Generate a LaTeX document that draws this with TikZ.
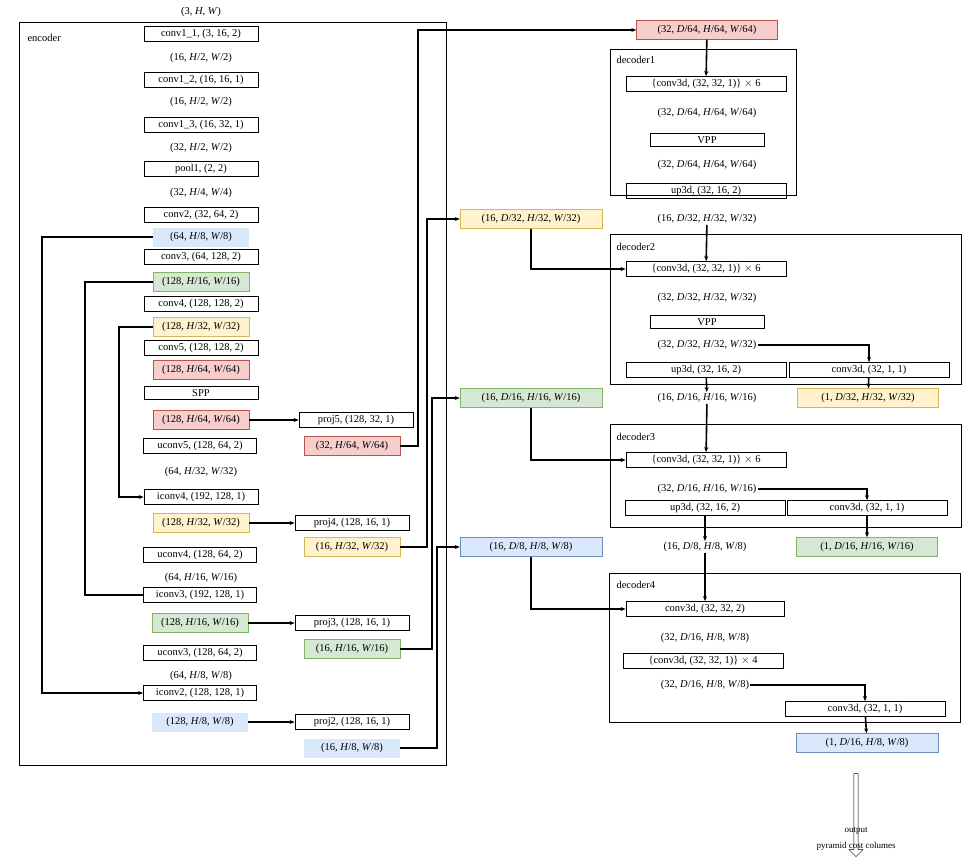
\documentclass[tikz,border=0pt]{standalone}
\usepackage{fontspec}
\setmainfont{Liberation Serif}
\usetikzlibrary{arrows.meta,shapes.arrows}
\newcommand\I[1]{\textit{#1}}
\definecolor{rfill}{HTML}{F8CECC}\definecolor{rdraw}{HTML}{B85450}
\definecolor{yfill}{HTML}{FFF2CC}\definecolor{ydraw}{HTML}{D6B656}
\definecolor{gfill}{HTML}{D5E8D4}\definecolor{gdraw}{HTML}{82B366}
\definecolor{bfill}{HTML}{DAE8FC}\definecolor{bdraw}{HTML}{6C8EBF}
\begin{document}
\begin{tikzpicture}[x=1pt,y=-1pt,font=\fontsize{10.5}{12}\selectfont,
  op/.style={draw,line width=0.8pt,minimum height=15pt,inner sep=0pt},
  lbl/.style={inner sep=1pt},
  col/.style={minimum height=19pt,minimum width=96pt,inner sep=0pt},
  red/.style={col,fill=rfill,draw=rdraw},
  yel/.style={col,fill=yfill,draw=ydraw},
  grn/.style={col,fill=gfill,draw=gdraw},
  blu/.style={col,fill=bfill},
  blub/.style={col,fill=bfill,draw=bdraw},
  frame/.style={draw,line width=0.8pt},
  link/.style={line width=1.6pt,-{Stealth[length=5pt,width=4pt]}},
  plain/.style={line width=1.6pt}]
\useasboundingbox (0,0) rectangle (976,863);
% encoder
\draw[frame] (19,22) rectangle (446,765);
\node[anchor=west] (enc) at (24,38) {encoder};
\node[lbl] (in) at (201,12) {(3, \I{H}, \I{W})};
\node[op,minimum width=114pt] (c11) at (201,34) {conv1\_1, (3, 16, 2)};
\node[lbl] (s1) at (201,58) {(16, \I{H}/2, \I{W}/2)};
\node[op,minimum width=114pt] (c12) at (201,80) {conv1\_2, (16, 16, 1)};
\node[lbl] (s2) at (201,102) {(16, \I{H}/2, \I{W}/2)};
\node[op,minimum width=114pt] (c13) at (201,125) {conv1\_3, (16, 32, 1)};
\node[lbl] (s3) at (201,148) {(32, \I{H}/2, \I{W}/2)};
\node[op,minimum width=114pt] (p1) at (201,169) {pool1, (2, 2)};
\node[lbl] (s4) at (201,193) {(32, \I{H}/4, \I{W}/4)};
\node[op,minimum width=114pt] (c2) at (201,215) {conv2, (32, 64, 2)};
\node[blu] (e8) at (201,237) {(64, \I{H}/8, \I{W}/8)};
\node[op,minimum width=114pt] (c3) at (201,257) {conv3, (64, 128, 2)};
\node[grn] (e16) at (201,282) {(128, \I{H}/16, \I{W}/16)};
\node[op,minimum width=114pt] (c4) at (201,304) {conv4, (128, 128, 2)};
\node[yel] (e32) at (201,327) {(128, \I{H}/32, \I{W}/32)};
\node[op,minimum width=114pt] (c5) at (201,348) {conv5, (128, 128, 2)};
\node[red] (e64) at (201,370) {(128, \I{H}/64, \I{W}/64)};
\node[op,minimum width=114pt,minimum height=13pt] (spp) at (201,393) {SPP};
\node[red] (f64) at (201,420) {(128, \I{H}/64, \I{W}/64)};
\node[op,minimum width=114pt] (pj5) at (356,420) {proj5, (128, 32, 1)};
\node[op,minimum width=113pt] (uc5) at (200,446) {uconv5, (128, 64, 2)};
\node[red] (o64) at (352,446) {(32, \I{H}/64, \I{W}/64)};
\node[lbl] (s5) at (201,472) {(64, \I{H}/32, \I{W}/32)};
\node[op,minimum width=114pt] (ic4) at (201,497) {iconv4, (192, 128, 1)};
\node[yel] (f32) at (201,523) {(128, \I{H}/32, \I{W}/32)};
\node[op,minimum width=114pt] (pj4) at (352,523) {proj4, (128, 16, 1)};
\node[op,minimum width=113pt] (uc4) at (200,555) {uconv4, (128, 64, 2)};
\node[yel] (o32) at (352,547) {(16, \I{H}/32, \I{W}/32)};
\node[lbl] (s6) at (201,578) {(64, \I{H}/16, \I{W}/16)};
\node[op,minimum width=113pt] (ic3) at (200,595) {iconv3, (192, 128, 1)};
\node[grn] (f16) at (200,623) {(128, \I{H}/16, \I{W}/16)};
\node[op,minimum width=114pt] (pj3) at (352,623) {proj3, (128, 16, 1)};
\node[op,minimum width=113pt] (uc3) at (200,653) {uconv3, (128, 64, 2)};
\node[grn] (o16) at (352,649) {(16, \I{H}/16, \I{W}/16)};
\node[lbl] (s7) at (201,676) {(64, \I{H}/8, \I{W}/8)};
\node[op,minimum width=113pt] (ic2) at (200,693) {iconv2, (128, 128, 1)};
\node[blu] (f8) at (200,722) {(128, \I{H}/8, \I{W}/8)};
\node[op,minimum width=114pt] (pj2) at (352,722) {proj2, (128, 16, 1)};
\node[blu] (o8) at (352,748) {(16, \I{H}/8, \I{W}/8)};
% encoder links
\draw[link] (e8.west) -- ++(-111,0) |- (ic2.west);
\draw[plain] (e16.west) -- ++(-68,0) |- (ic3.west);
\draw[link] (e32.west) -- ++(-34,0) |- (ic4.west);
\draw[link] (f64) -- (pj5);
\draw[link] (f32) -- (pj4);
\draw[link] (f16) -- (pj3);
\draw[link] (f8) -- (pj2);
% decoder
\node[red,minimum width=141pt] (d64) at (707,30) {(32, \I{D}/64, \I{H}/64, \I{W}/64)};
\node[yel,minimum width=142pt] (k32) at (531,219) {(16, \I{D}/32, \I{H}/32, \I{W}/32)};
\node[grn,minimum width=142pt] (k16) at (531,398) {(16, \I{D}/16, \I{H}/16, \I{W}/16)};
\node[blub,minimum width=142pt] (k8) at (531,547) {(16, \I{D}/8, \I{H}/8, \I{W}/8)};
\draw[link] (o64.east) -- ++(18,0) |- (d64.west);
\draw[link] (o32.east) -- ++(27,0) |- (k32.west);
\draw[link] (o16.east) -- ++(32,0) |- (k16.west);
\draw[link] (o8.east) -- ++(37,0) |- (k8.west);
% decoder1
\draw[frame] (610,49) rectangle (796,195);
\node[anchor=west] (dl1) at (613,60) {decoder1};
\node[op,minimum width=160pt] (a1) at (706,84) {\{conv3d, (32, 32, 1)\} $\times$ 6};
\node[lbl] (t1) at (707,113) {(32, \I{D}/64, \I{H}/64, \I{W}/64)};
\node[op,minimum width=114pt,minimum height=13pt] (v1) at (707,140) {VPP};
\node[lbl] (t2) at (707,165) {(32, \I{D}/64, \I{H}/64, \I{W}/64)};
\node[op,minimum width=160pt] (u1) at (706,191) {up3d, (32, 16, 2)};
\node[lbl] (t3) at (707,219) {(16, \I{D}/32, \I{H}/32, \I{W}/32)};
\draw[link] (d64) -- (a1);
% decoder2
\draw[frame] (610,234) rectangle (961,384);
\node[anchor=west] (dl2) at (613,247) {decoder2};
\node[op,minimum width=160pt] (a2) at (706,269) {\{conv3d, (32, 32, 1)\} $\times$ 6};
\node[lbl] (t4) at (707,298) {(32, \I{D}/32, \I{H}/32, \I{W}/32)};
\node[op,minimum width=114pt,minimum height=13pt] (v2) at (707,322) {VPP};
\node[lbl] (t5) at (707,345) {(32, \I{D}/32, \I{H}/32, \I{W}/32)};
\node[op,minimum width=160pt] (u2) at (706,370) {up3d, (32, 16, 2)};
\node[op,minimum width=160pt] (q2) at (869,370) {conv3d, (32, 1, 1)};
\node[lbl] (t6) at (707,398) {(16, \I{D}/16, \I{H}/16, \I{W}/16)};
\node[yel,minimum width=141pt] (r32) at (868,398) {(1, \I{D}/32, \I{H}/32, \I{W}/32)};
\draw[link] (t3) -- (a2);
\draw[link] (k32.south) |- (a2.west);
\draw[link] (t5.east) -| (q2.north);
\draw[link] (u2) -- (t6);
\draw[link] (q2) -- (r32);
% decoder3
\draw[frame] (610,424) rectangle (961,527);
\node[anchor=west] (dl3) at (613,437) {decoder3};
\node[op,minimum width=160pt] (a3) at (706,460) {\{conv3d, (32, 32, 1)\} $\times$ 6};
\node[lbl] (t7) at (707,489) {(32, \I{D}/16, \I{H}/16, \I{W}/16)};
\node[op,minimum width=160pt] (u3) at (705,508) {up3d, (32, 16, 2)};
\node[op,minimum width=160pt] (q3) at (867,508) {conv3d, (32, 1, 1)};
\node[lbl] (t8) at (705,547) {(16, \I{D}/8, \I{H}/8, \I{W}/8)};
\node[grn,minimum width=141pt] (r16) at (867,547) {(1, \I{D}/16, \I{H}/16, \I{W}/16)};
\draw[link] (t6) -- (a3);
\draw[link] (k16.south) |- (a3.west);
\draw[link] (t7.east) -| (q3.north);
\draw[link] (u3) -- (t8);
\draw[link] (q3) -- (r16);
% decoder4
\draw[frame] (609,573) rectangle (960,722);
\node[anchor=west] (dl4) at (613,585) {decoder4};
\node[op,minimum width=158pt] (a4) at (705,609) {conv3d, (32, 32, 2)};
\node[lbl] (t9) at (705,638) {(32, \I{D}/16, \I{H}/8, \I{W}/8)};
\node[op,minimum width=160pt] (b4) at (703,661) {\{conv3d, (32, 32, 1)\} $\times$ 4};
\node[lbl] (t10) at (705,685) {(32, \I{D}/16, \I{H}/8, \I{W}/8)};
\node[op,minimum width=160pt] (q4) at (865,709) {conv3d, (32, 1, 1)};
\node[blub,minimum width=142pt] (r8) at (867,743) {(1, \I{D}/16, \I{H}/8, \I{W}/8)};
\draw[link] (t8) -- (a4);
\draw[link] (k8.south) |- (a4.west);
\draw[link] (t10.east) -| (q4.north);
\draw[link] (q4) -- (r8);
% output
\node[single arrow,draw,fill=white,shape border rotate=270,minimum width=14pt,
  single arrow head extend=4pt,single arrow tip angle=90,minimum height=83pt,
  inner sep=1.5pt] (out) at (856,814) {};
\node[align=center,font=\fontsize{9}{16}\selectfont] (otx) at (856,839) {output\\pyramid cost columes};
\end{tikzpicture}
\end{document}
